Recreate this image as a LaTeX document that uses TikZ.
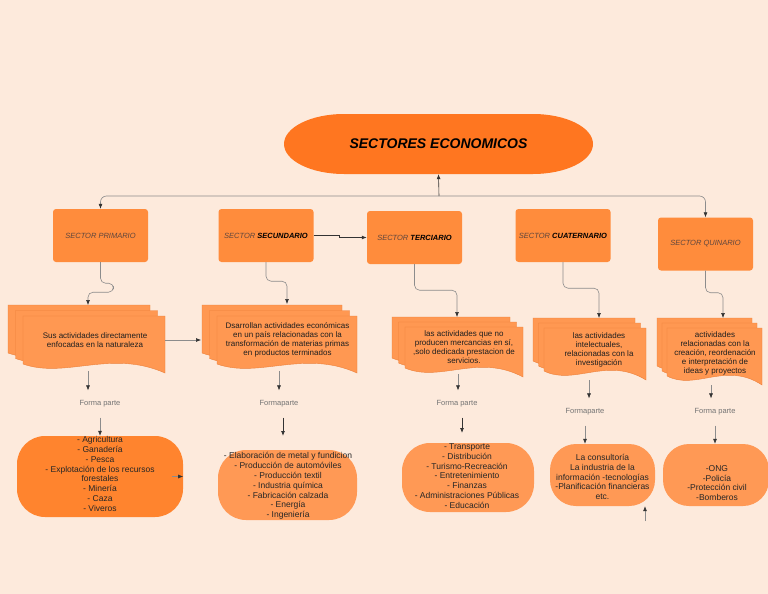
\documentclass[tikz,border=0pt]{standalone}
\usepackage{fontspec}
\setmainfont{Liberation Sans}
\usetikzlibrary{arrows.meta}
\definecolor{bg}{RGB}{253,234,220}
\definecolor{titlec}{RGB}{255,118,32}
\definecolor{boxc}{RGB}{255,140,60}
\definecolor{docc}{RGB}{255,152,82}
\definecolor{docedge}{RGB}{236,128,58}
\definecolor{stcA}{RGB}{255,132,46}
\definecolor{stcB}{RGB}{255,153,85}
\definecolor{lbl}{RGB}{95,70,60}
\newcommand\docpath[4]{(#1,{#2+#4-9}) -- (#1,#2) -- ({#1+#3},#2) -- ({#1+#3},{#2+#4}) .. controls ({#1+0.62*#3},{#2+#4-24}) and ({#1+0.3*#3},{#2+#4+6}) .. (#1,{#2+#4-9}) -- cycle}
% x1 y1 w h dx dy
\newcommand\docstack[6]{%
 \filldraw[fill=docc,draw=docedge,line width=0.4pt] \docpath{#1-2*#5}{#2-2*#6}{#3}{#4};
 \filldraw[fill=docc,draw=docedge,line width=0.4pt] \docpath{#1-#5}{#2-#6}{#3}{#4};
 \filldraw[fill=docc,draw=docedge,line width=0.4pt] \docpath{#1}{#2}{#3}{#4};}
\tikzset{
 sector/.style={fill=boxc, rounded corners=3pt, minimum width=95pt, minimum height=53pt, inner sep=0pt, font=\fontsize{7.5}{9}\selectfont\itshape, text=lbl},
 doctext/.style={align=center, inner sep=0pt, font=\fontsize{8}{9}\selectfont, text=black!88},
 stad/.style={rounded corners=28pt, inner sep=0pt},
 sttext/.style={align=center, inner sep=0pt, font=\fontsize{8.5}{9.8}\selectfont, text=black!85},
 forma/.style={inner xsep=2pt, inner ysep=10pt, font=\fontsize{7.5}{9}\selectfont, text=black!55},
 conn/.style={draw=black!45, line width=0.6pt, -{Latex[length=5pt,width=4pt,color=black!80]}},
 connd/.style={draw=black!80, line width=0.8pt, -{Latex[length=5pt,width=4pt]}},
}
\begin{document}
\begin{tikzpicture}[x=1pt,y=-1pt]
\useasboundingbox (0,0) rectangle (768,594);
\fill[bg] (0,0) rectangle (768,594);

% title
\fill[titlec] (344,114) -- (533,114) arc[start angle=-90,end angle=90,x radius=60,y radius=30] -- (344,174) arc[start angle=90,end angle=270,x radius=60,y radius=30] -- cycle;
\node[minimum width=309pt, minimum height=60pt, inner sep=0pt, font=\fontsize{14}{16}\selectfont\bfseries\itshape] (title) at (438.5,144) {SECTORES ECONOMICOS};
\coordinate (jn) at (439,196);

% sector boxes
\node[sector] (p1) at (100.5,235.5) {SECTOR PRIMARIO};
\node[sector] (p2) at (266,235.5) {SECTOR \textcolor{black}{\bfseries SECUNDARIO}};
\node[sector] (p3) at (414.5,237.5) {SECTOR \textcolor{black}{\bfseries TERCIARIO}};
\node[sector] (p4) at (563,235.5) {SECTOR \textcolor{black}{\bfseries CUATERNARIO}};
\node[sector] (p5) at (705.5,244) {SECTOR QUINARIO};

% documents
\docstack{23}{316}{142}{57}{7.5}{5.5}
\docstack{217}{316}{140}{57}{7.5}{5.5}
\docstack{405}{327}{118}{50}{6.5}{5}
\docstack{544}{328}{102}{52}{5.5}{5}
\docstack{667}{328}{95}{57}{5}{5}
\node[doctext] (d1) at (95,340) {Sus actividades directamente\\enfocadas en la naturaleza};
\node[doctext] (d2) at (287.5,340) {Dsarrollan actividades económicas\\en un país relacionadas con la\\transformación de materias primas\\en productos terminados};
\node[doctext] (d3) at (464,347) {las actividades que no\\producen mercancias en sí,\\,solo dedicada prestacion de\\servicios.};
\node[doctext] (d4) at (599,350) {las actividades\\intelectuales,\\relacionadas con la\\investigación};
\node[doctext] (d5) at (715,353) {actividades\\relacionadas con la\\creación, reordenación\\e interpretación de\\ideas y proyectos};
\coordinate (d1in) at (88,305); \coordinate (d2in) at (287,304);
\coordinate (d3in) at (457,317); \coordinate (d4in) at (599,318); \coordinate (d5in) at (723,318);
\coordinate (d1out) at (88,371); \coordinate (d2out) at (279,371);
\coordinate (d3out) at (458,374); \coordinate (d4out) at (589,380); \coordinate (d5out) at (711,385);
\coordinate (d1r) at (165,340); \coordinate (d2l) at (201,340);

% forma parte labels
\node[forma] (f1) at (100,404) {Forma parte};
\node[forma] (f2) at (279,404) {Formaparte};
\node[forma] (f3) at (457,404) {Forma parte};
\node[forma] (f4) at (585,412) {Formaparte};
\node[forma] (f5) at (715,412) {Forma parte};

% stadiums
\node[stad, fill=stcA, minimum width=166pt, minimum height=81pt] (s1) at (100,476.5) {};
\node[stad, fill=stcB, minimum width=139pt, minimum height=70pt] (s2) at (287.5,485) {};
\node[stad, fill=stcB, minimum width=132pt, minimum height=69pt] (s3) at (468,477.5) {};
\node[stad, fill=stcB, minimum width=105pt, minimum height=62pt, rounded corners=26pt] (s4) at (602.5,475) {};
\node[stad, fill=stcB, minimum width=106pt, minimum height=62pt, rounded corners=26pt] (s5) at (716,475) {};
\node[sttext] (t1) at (100,474) {- Agricultura\\- Ganadería\\- Pesca\\- Explotación de los recursos\\forestales\\- Minería\\- Caza\\- Viveros};
\node[sttext] (t2) at (288,486) {- Elaboración de metal y fundicion\\- Producción de automóviles\\- Producción textil\\- Industria química\\- Fabricación calzada\\- Energía\\- Ingeniería};
\node[sttext] (t3) at (467,476) {- Transporte\\- Distribución\\- Turismo-Recreación\\- Entretenimiento\\- Finanzas\\- Administraciones Públicas\\- Educación};
\node[sttext] (t4) at (602.5,477) {La consultoría\\La industria de la\\información -tecnologías\\-Planificación financieras\\etc.};
\node[sttext] (t5) at (717,483) {-ONG\\-Policía\\-Protección civil\\-Bomberos};
\coordinate (e2) at (283,436); \coordinate (e3) at (462,433);
\coordinate (s1a) at (172,476.5); \coordinate (s4b) at (645,521);

% connectors
\draw[connd, line width=0.6pt] (jn) -- (title.south);
\draw[conn, rounded corners=6pt] (jn) -| (p1.north);
\draw[conn, rounded corners=6pt] (jn) -| (p5.north);
\draw[connd] (p2.east) -- ++(26,0) |- (p3.west);
\draw[conn, rounded corners=5pt] (p1.south) -- ++(0,21) -- ++(13,0) -- ++(0,9) -| (d1in);
\draw[conn, rounded corners=5pt] (p2.south) -- ++(0,19) -| (d2in);
\draw[conn, rounded corners=5pt] (p3.south) -- ++(0,26) -| (d3in);
\draw[conn, rounded corners=5pt] (p4.south) -- ++(0,26) -| (d4in);
\draw[conn, rounded corners=5pt] (p5.south) -- ++(0,22) -| (d5in);
\draw[conn] (d1r) -- (d2l);
\draw[conn] (d1out) -- (d1out |- f1.north);
\draw[conn] (d2out) -- (d2out |- f2.north);
\draw[conn] (d3out) -- (d3out |- f3.north);
\draw[conn] (d4out) -- (d4out |- f4.north);
\draw[conn] (d5out) -- (d5out |- f5.north);
\draw[conn] (f1.south) -- (s1.north);
\draw[connd] (e2 |- f2.south) -- (e2);
\draw[connd] (e3 |- f3.south) -- (e3);
\draw[conn] (f4.south) -- (f4.south |- s4.north);
\draw[conn] (f5.south) -- (f5.south |- s5.north);
\draw[conn] (s1a) -- (s1.east);
\draw[conn] (s4b) -- (s4b |- s4.south);
\end{tikzpicture}
\end{document}
